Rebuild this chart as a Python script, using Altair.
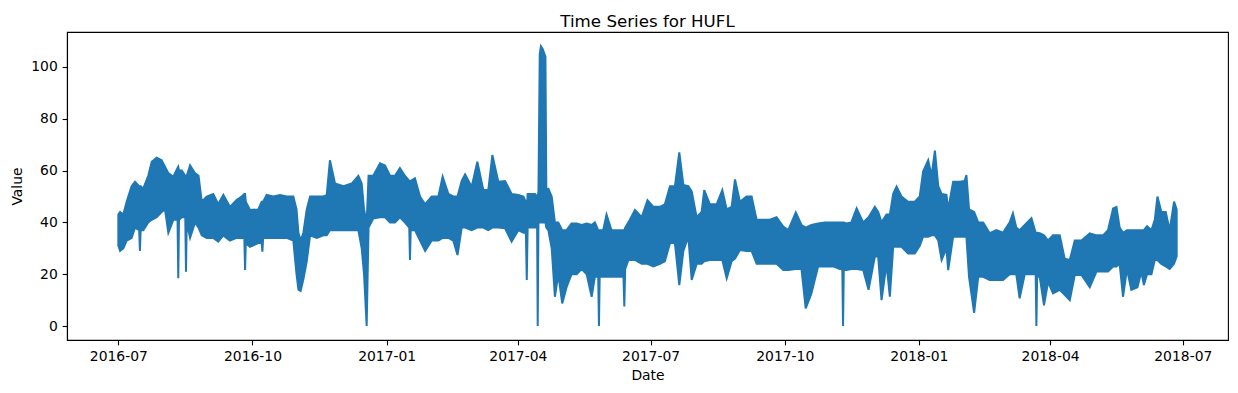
import altair as alt
import pandas as pd

# Envelope of the hourly HUFL series:
# day offset from 2016-07-01, lower edge, upper edge of the dense band
days = [
    0.0, 1.2, 3.4, 5.7, 9.1, 11.4, 14.3, 14.8, 15.3, 17.1, 20.5, 22.9, 26.3, 29.7, 32.0,
    34.3, 37.7, 40.6, 41.1, 41.6, 43.5, 45.9, 46.4, 46.9, 49.2, 52.6, 55.0, 57.2, 60.6,
    65.1, 68.5, 72.0, 76.5, 81.1, 84.6, 86.4, 86.9, 87.4, 90.3, 96.0, 98.3, 98.8, 99.3,
    101.7, 106.3, 110.9, 115.4, 120.0, 122.2,
    123.5, 125.0, 126.9, 129.2, 131.5, 136.0, 140.6, 142.9, 145.1, 148.6, 154.4, 160.0,
    164.6, 166.9, 168.5, 170.3, 171.6, 174.8, 179.5, 182.9, 186.3, 189.7, 193.1, 196.5,
    199.5, 200.0, 200.5, 203.4, 206.9, 210.4, 214.9, 219.5, 222.4, 226.3, 229.7, 232.6,
    235.5, 237.8, 242.3, 246.2, 250.3, 253.7,
    256.5, 260.6, 265.2, 269.7, 274.3, 277.8, 279.5, 280.1, 280.7, 285.7, 287.2, 287.6,
    288.1, 289.0, 289.8, 291.0, 292.9, 293.5, 294.9, 297.2, 299.4, 301.7, 304.4, 307.4,
    310.8, 314.3, 317.7, 321.2, 324.6, 326.8, 329.1, 329.6, 330.1, 332.5, 334.8, 338.2,
    342.9, 346.4, 347.0, 347.6, 349.8, 354.3, 358.9, 362.9, 366.9, 371.4, 374.8, 378.3,
    381.7, 384.7,
    387.5, 390.9, 393.2, 396.6, 400.0, 401.8, 405.7, 410.3, 414.2, 417.2, 420.6, 422.9,
    426.3, 430.8, 434.3, 437.7, 442.2, 446.9, 451.4, 456.0, 459.4, 464.6, 468.5, 471.4,
    475.3, 479.9, 484.5, 490.2, 494.8, 496.5, 497.0, 497.5, 499.3, 502.7, 506.3, 510.8,
    514.5,
    518.8, 521.1, 523.4, 526.8, 529.1, 531.4, 533.7, 537.1, 541.6, 546.2, 549.6, 551.9,
    555.4, 557.7, 560.0, 562.3, 564.6, 567.9, 569.1, 572.5, 577.0, 580.4, 581.6, 583.4,
    586.9, 589.7, 593.1, 597.6, 602.2, 606.7, 611.3, 613.5, 615.8, 618.1, 621.6, 626.2,
    629.1, 629.6, 630.1, 631.9, 634.8, 637.6, 641.0,
    645.6, 649.0, 652.5, 655.9, 660.5, 666.2, 670.8, 675.3, 678.7, 682.2, 684.5, 686.7,
    689.0, 691.7, 694.7, 698.9, 701.6, 703.3, 705.5, 708.5, 710.8, 712.6, 715.3, 718.3,
    721.0, 724.0, 725.8,
]
low = [
    31, 29, 30, 33, 34, 38, 37, 29, 37, 37, 40, 41, 42, 44, 45,
    36, 41, 41, 18.4, 41, 42, 42, 21, 40, 34, 40, 38, 35, 34,
    34, 32.6, 35, 33, 34, 34, 34, 21.6, 32, 30.6, 32, 32, 28.7, 34,
    34, 34, 34, 34, 33, 20,
    14, 13.5, 18, 25, 35, 34, 35, 35, 37, 37, 37, 37,
    37, 30, 20, 0, 38, 41.5, 42, 42, 40, 40, 42, 40,
    38, 25.5, 37, 37, 33, 29, 33, 33, 34, 34, 33, 27.4,
    38, 38, 37, 38, 38, 37,
    38, 38, 37.7, 32.6, 37, 36, 36, 17.8, 38, 38, 38, 0,
    40, 40, 40, 40, 40, 38, 37, 30, 11.3, 20, 8.7, 15,
    20, 20, 22, 20, 11.3, 19, 19, 0, 19, 19, 19, 19,
    19, 19, 7.5, 22, 25.5, 25.5, 24, 24, 23, 24, 25, 32,
    32, 15.8,
    29, 34.5, 17.8, 24, 24, 25, 25.5, 25.5, 25.5, 18.4, 25, 26,
    29.3, 29, 29, 24, 24, 24, 24, 21.6, 21.6, 22, 22, 6.8,
    12.6, 23, 23, 23, 22, 22, 0, 21.6, 21.6, 22, 22, 21.6,
    14,
    26.8, 26.8, 10, 24, 11.3, 30.6, 30.6, 30.6, 28, 28, 31, 34.5,
    34.5, 35, 35, 33, 25.5, 30, 21.6, 34.5, 34.5, 34.5, 34.5, 19,
    5.1, 19, 19, 17.8, 17.8, 17.8, 20, 20, 20, 10.7, 20, 20,
    20, 0, 19, 19, 8, 17, 12.6,
    14, 12, 10, 19.7, 19.7, 15, 21, 21, 21, 23, 23, 24,
    11.3, 22, 14, 15, 21, 15.8, 20, 20, 25.5, 25.5, 24, 23,
    22, 24, 27,
]
high = [
    43, 44, 43, 48, 54, 55.7, 54, 54, 54, 53, 58, 63.4, 65, 64, 61.5,
    59, 57.6, 61, 61.5, 60, 60, 58, 58, 58, 62, 59, 58, 48, 50,
    51, 47, 50.6, 46, 48.6, 50, 51, 51, 48, 44.8, 45, 48, 48, 48,
    50.6, 50, 50.6, 50, 50, 45,
    36, 33, 36, 45, 50, 50, 50, 50.5, 64, 55, 54, 55,
    58, 55, 45, 40, 58, 58, 62.8, 62, 58, 58, 61, 58,
    56, 56, 56, 57, 50, 47, 50, 50, 57.7, 51, 50, 50,
    56, 58.5, 53.8, 63.4, 52.5, 52.5,
    66, 55.7, 56, 51, 50.6, 50, 48, 45, 51, 51, 50, 50,
    52, 105, 108, 107, 104, 53, 53, 50, 40, 40, 37, 37,
    39.6, 39.6, 39, 39.6, 39, 40, 37, 37, 37, 37, 43, 37,
    37, 37, 37, 38, 40, 44.8, 42, 48.6, 46, 46, 47, 54,
    54, 67,
    54.4, 54, 52, 42, 44, 52.5, 47, 47, 52.5, 45, 46, 56.6,
    48, 50, 50, 41, 41, 41, 42, 38.4, 37, 43.8, 39, 38,
    39, 39.6, 40, 40, 40, 40, 40, 40, 39.6, 40, 45.4, 40,
    42,
    46, 44, 40, 43, 43, 51, 53.8, 50, 48, 48, 50, 59.6,
    64, 58, 67.7, 54, 51, 50.6, 45, 55.7, 55.7, 56, 58.3, 45,
    44, 40, 40, 35.8, 37, 36, 40, 43.5, 38, 37, 39, 41.6,
    36, 36, 36, 35.8, 35, 33, 35,
    35, 26, 25.5, 33, 33, 35.8, 35, 35, 37, 45.4, 46, 38,
    36, 37, 37, 37, 37, 37, 38.5, 37, 41, 50, 44, 44,
    37, 48, 45,
]

x_ticks = ["2016-07", "2016-10", "2017-01", "2017-04", "2017-07",
           "2017-10", "2018-01", "2018-04", "2018-07"]
y_ticks = [0, 20, 40, 60, 80, 100]

start = pd.Timestamp("2016-07-01")
df = pd.DataFrame({
    "Date": start + pd.to_timedelta(days, unit="D"),
    "low": low,
    "high": high,
})

tick_values = [alt.DateTime(year=int(t[:4]), month=int(t[5:]), date=1) for t in x_ticks]

FONT = "DejaVu Sans"
BLUE = "#1f77b4"

chart = alt.Chart(df).mark_area(
    color=BLUE, stroke=BLUE, strokeWidth=2, opacity=1, interpolate="linear"
).encode(
    x=alt.X(
        "Date:T",
        title="Date",
        scale=alt.Scale(domain=[alt.DateTime(year=2016, month=5, date=26, hours=19),
                                alt.DateTime(year=2018, month=8, date=1)]),
        axis=alt.Axis(values=tick_values, format="%Y-%m", labelAngle=0, grid=False,
                      labelFont=FONT, titleFont=FONT, labelFontSize=13.9,
                      titleFontSize=13.9, labelFontWeight="normal",
                      titleFontWeight="normal", labelColor="black", titleColor="black",
                      tickColor="black", domainColor="black", tickSize=4.86,
                      tickWidth=1.1, domainWidth=1.1, labelPadding=4.86,
                      titlePadding=5),
    ),
    y=alt.Y(
        "low:Q",
        title="Value",
        scale=alt.Scale(domain=[-5.4, 113.5], nice=False, zero=False),
        axis=alt.Axis(values=y_ticks, grid=False,
                      labelFont=FONT, titleFont=FONT, labelFontSize=13.9,
                      titleFontSize=13.9, labelFontWeight="normal",
                      titleFontWeight="normal", labelColor="black", titleColor="black",
                      tickColor="black", domainColor="black", tickSize=4.86,
                      tickWidth=1.1, domainWidth=1.1, labelPadding=4.86,
                      titlePadding=6),
    ),
    y2="high:Q",
).properties(
    width=1161,
    height=308,
    title=alt.TitleParams("Time Series for HUFL", font=FONT, fontSize=16.67,
                          fontWeight="normal", color="black", anchor="middle",
                          baseline="alphabetic", offset=8, dy=20),
    autosize=alt.AutoSizeParams(type="none"),
    padding={"left": 67, "top": 32, "right": 10, "bottom": 53},
    background="white",
).configure_view(
    stroke="black", strokeWidth=1.1
)

chart.save("out.html", embed_options={"renderer": "svg", "actions": False})
